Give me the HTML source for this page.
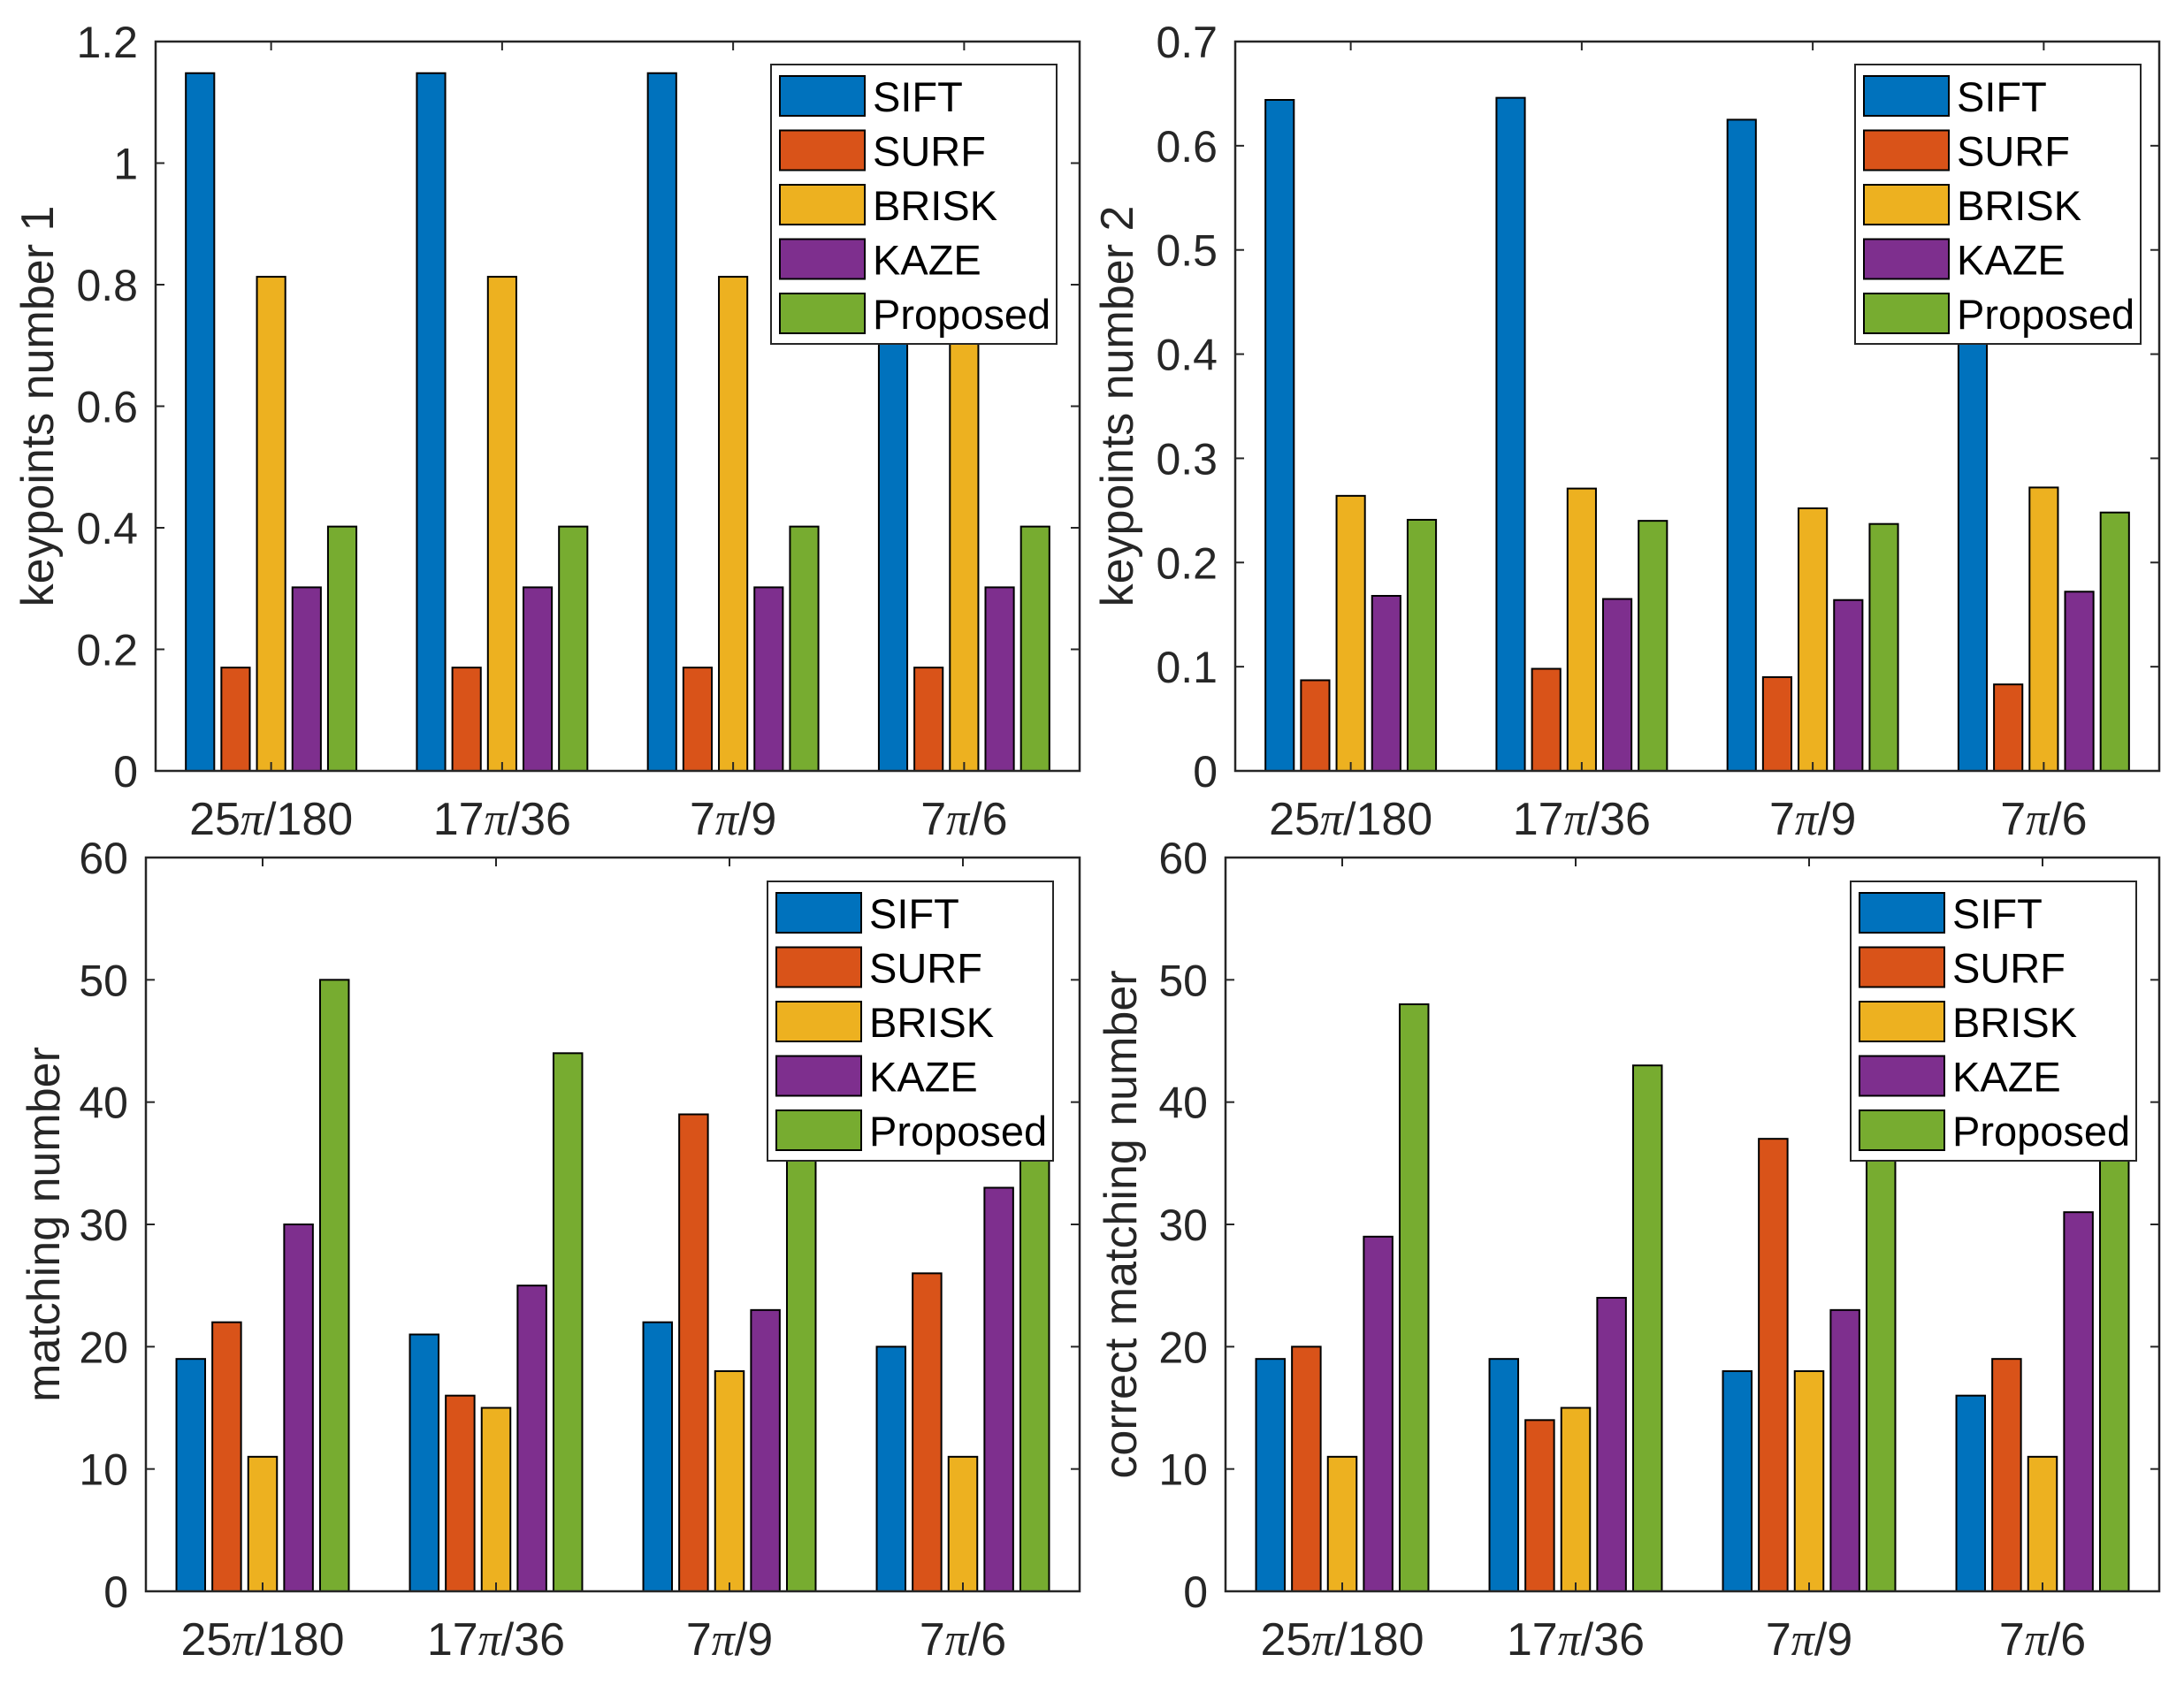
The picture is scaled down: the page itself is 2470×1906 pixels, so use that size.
<!DOCTYPE html>
<html><head><meta charset="utf-8"><style>html,body{margin:0;padding:0;background:#fff}svg{display:block}</style></head>
<body>
<svg id="s" xmlns="http://www.w3.org/2000/svg" width="2470" height="1906" viewBox="0 0 2470 1906" font-family="Liberation Sans, sans-serif"></svg>
<script>
const cols=["#0072BD","#D95319","#EDB120","#7E2F8E","#77AC30"];
const names=["SIFT","SURF","BRISK","KAZE","Proposed"];
const P=[
 {x0:176,x1:1221,y0:47,y1:872,ymax:1.2,step:0.2,dec:1,lab:"keypoints number 1",lx:60,
  d:[[1.148,0.17,0.813,0.302,0.402],[1.148,0.17,0.813,0.302,0.402],[1.148,0.17,0.813,0.302,0.402],[1.148,0.17,0.813,0.302,0.402]],leg:[872,73]},
 {x0:1397,x1:2442,y0:47,y1:872,ymax:0.7,step:0.1,dec:1,lab:"keypoints number 2",lx:1281,
  d:[[0.644,0.087,0.264,0.168,0.241],[0.646,0.098,0.271,0.165,0.240],[0.625,0.090,0.252,0.164,0.237],[0.64,0.083,0.272,0.172,0.248]],leg:[2098,73]},
 {x0:165,x1:1221,y0:970,y1:1800,ymax:60,step:10,dec:0,lab:"matching number",lx:67,
  d:[[19,22,11,30,50],[21,16,15,25,44],[22,39,18,23,46],[20,26,11,33,45]],leg:[868,997]},
 {x0:1386,x1:2442,y0:970,y1:1800,ymax:60,step:10,dec:0,lab:"correct matching number",lx:1285,
  d:[[19,20,11,29,48],[19,14,15,24,43],[18,37,18,23,45],[16,19,11,31,44]],leg:[2093,997]}
];
const xl=[["25","180"],["17","36"],["7","9"],["7","6"]];
let h="";
for(const p of P){
 const W=p.x1-p.x0,H=p.y1-p.y0,u=W/4;
 const yv=v=>p.y1-v/p.ymax*H;
 for(let g=0;g<4;g++){
  const c=p.x0+(g+0.5)*u, gw=0.7692, st=gw/5*u, bw=st*0.8;
  for(let k=0;k<5;k++){
   const bc=c+(k-2)*st, y=yv(p.d[g][k]);
   h+=`<rect x="${bc-bw/2}" y="${y}" width="${bw}" height="${p.y1-y}" fill="${cols[k]}" stroke="#000" stroke-width="2"/>`;
  }
  h+=`<line x1="${c}" y1="${p.y1}" x2="${c}" y2="${p.y1-10}" stroke="#262626" stroke-width="2"/>`;
  h+=`<line x1="${c}" y1="${p.y0}" x2="${c}" y2="${p.y0+10}" stroke="#262626" stroke-width="2"/>`;
  h+=`<text x="${c}" y="${p.y1+72}" font-size="52" fill="#262626" text-anchor="middle">${xl[g][0]}<tspan font-family="Liberation Serif, serif" font-style="italic">π</tspan>/${xl[g][1]}</text>`;
 }
 const n=Math.round(p.ymax/p.step);
 for(let i=0;i<=n;i++){
  const v=i*p.step,y=yv(v);
  const t=i==0?"0":(p.dec?(+v.toFixed(1)).toString():v.toString());
  h+=`<line x1="${p.x0}" y1="${y}" x2="${p.x0+10}" y2="${y}" stroke="#262626" stroke-width="2"/>`;
  h+=`<line x1="${p.x1}" y1="${y}" x2="${p.x1-10}" y2="${y}" stroke="#262626" stroke-width="2"/>`;
  h+=`<text x="${p.x0-20}" y="${y+18}" font-size="50" fill="#262626" text-anchor="end">${t}</text>`;
 }
 h+=`<rect x="${p.x0}" y="${p.y0}" width="${W}" height="${H}" fill="none" stroke="#262626" stroke-width="2.5"/>`;
 const cy=(p.y0+p.y1)/2;
 h+=`<text transform="translate(${p.lx},${cy}) rotate(-90)" font-size="52" fill="#262626" text-anchor="middle">${p.lab}</text>`;
 const [lx,ly]=p.leg;
 h+=`<rect x="${lx}" y="${ly}" width="323" height="316" fill="#fff" stroke="#262626" stroke-width="2"/>`;
 for(let k=0;k<5;k++){
  const ry=ly+13+k*61.5;
  h+=`<rect x="${lx+10}" y="${ry}" width="96" height="45" fill="${cols[k]}" stroke="#000" stroke-width="2"/>`;
  h+=`<text x="${lx+115}" y="${ry+40}" font-size="47" fill="#000">${names[k]}</text>`;
 }
}
document.getElementById("s").innerHTML=h;
</script>
</body></html>
